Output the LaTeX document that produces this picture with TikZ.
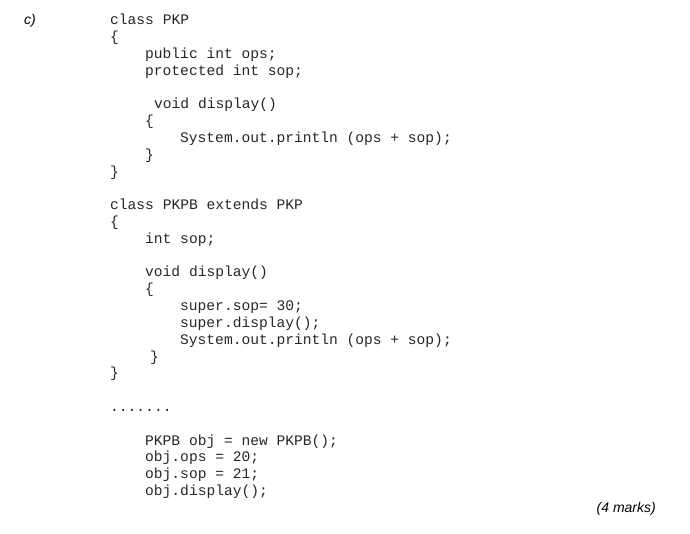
\documentclass[tikz,border=0pt]{standalone}
\usepackage{fontspec}
\setmainfont{Liberation Sans}
\setmonofont{Liberation Mono}
\begin{document}
\begin{tikzpicture}[x=1pt,y=-1pt,
  code/.style={anchor=base west,inner sep=0pt,font=\ttfamily\fontsize{14.6}{16}\selectfont,text=black!85},
  lbl/.style={inner sep=0pt,font=\itshape\fontsize{14}{16}\selectfont}]
\useasboundingbox (0,0) rectangle (690,534);
\def\L#1{20+#1*16.8+5}
\node[lbl,anchor=base west] (c) at (24,25) {c)};
\node[code] (l0) at (110,{\L{0}}) {class PKP};
\node[code] (l1) at (110,{\L{1}}) {\{};
\node[code] (l2) at (145,{\L{2}}) {public int ops;};
\node[code] (l3) at (145,{\L{3}}) {protected int sop;};
\node[code] (l5) at (154,{\L{5}}) {void display()};
\node[code] (l6) at (145,{\L{6}}) {\{};
\node[code] (l7) at (180,{\L{7}}) {System.out.println (ops + sop);};
\node[code] (l8) at (145,{\L{8}}) {\}};
\node[code] (l9) at (110,{\L{9}}) {\}};
\node[code] (l11) at (110,{\L{11}}) {class PKPB extends PKP};
\node[code] (l12) at (110,{\L{12}}) {\{};
\node[code] (l13) at (145,{\L{13}}) {int sop;};
\node[code] (l15) at (145,{\L{15}}) {void display()};
\node[code] (l16) at (145,{\L{16}}) {\{};
\node[code] (l17) at (180,{\L{17}}) {super.sop= 30;};
\node[code] (l18) at (180,{\L{18}}) {super.display();};
\node[code] (l19) at (180,{\L{19}}) {System.out.println (ops + sop);};
\node[code] (l20) at (150,{\L{20}}) {\}};
\node[code] (l21) at (110,{\L{21}}) {\}};
\node[code] (l23) at (110,{\L{23}}) {.......};
\node[code] (l25) at (145,{\L{25}}) {PKPB obj = new PKPB();};
\node[code] (l26) at (145,{\L{26}}) {obj.ops = 20;};
\node[code] (l27) at (145,{\L{27}}) {obj.sop = 21;};
\node[code] (l28) at (145,{\L{28}}) {obj.display();};
\node[lbl,anchor=base east] (m) at (656,{\L{29}}) {(4 marks)};
\end{tikzpicture}
\end{document}
